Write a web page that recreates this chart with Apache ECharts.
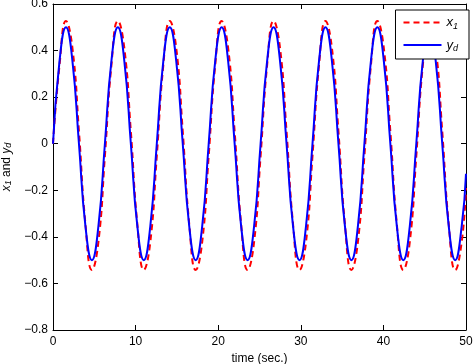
<!DOCTYPE html>
<html><head><meta charset="utf-8">
<script src="https://cdn.jsdelivr.net/npm/echarts@6/dist/echarts.min.js"></script>
<style>html,body{margin:0;padding:0;background:#fff}#c{width:474px;height:364px}</style>
</head><body><div id="c"></div>
<script>
// time samples (sec.)
const time = [0,0.785,1.571,2.356,3.142,3.927,4.712,5.498,6.283,7.069,7.854,8.639,9.425,10.21,10.996,11.781,
12.566,13.352,14.137,14.923,15.708,16.493,17.279,18.064,18.85,19.635,20.42,21.206,21.991,22.777,23.562,24.347,
25.133,25.918,26.704,27.489,28.274,29.06,29.845,30.631,31.416,32.201,32.987,33.772,34.558,35.343,36.128,36.914,
37.699,38.485,39.27,40.055,40.841,41.626,42.412,43.197,43.982,44.768,45.553,46.338,47.124,47.909,48.695,49.48,50];
// desired trajectory y_d
const yd = [0,0.354,0.5,0.354,0,-0.354,-0.5,-0.354,
0,0.354,0.5,0.354,0,-0.354,-0.5,-0.354,
0,0.354,0.5,0.354,0,-0.354,-0.5,-0.354,
0,0.354,0.5,0.354,0,-0.354,-0.5,-0.354,
0,0.354,0.5,0.354,0,-0.354,-0.5,-0.354,
0,0.354,0.5,0.354,0,-0.354,-0.5,-0.354,
0,0.354,0.5,0.354,0,-0.354,-0.5,-0.354,
0,0.354,0.5,0.354,0,-0.354,-0.5,-0.354,-0.129];
// state x_1
const x1 = [0,0.335,0.527,0.41,0.053,-0.345,-0.542,-0.422,
-0.053,0.335,0.527,0.41,0.053,-0.345,-0.542,-0.422,
-0.053,0.335,0.527,0.41,0.053,-0.345,-0.542,-0.422,
-0.053,0.335,0.527,0.41,0.053,-0.345,-0.542,-0.422,
-0.053,0.335,0.527,0.41,0.053,-0.345,-0.542,-0.422,
-0.053,0.335,0.527,0.41,0.053,-0.345,-0.542,-0.422,
-0.053,0.335,0.527,0.41,0.053,-0.345,-0.542,-0.422,
-0.053,0.335,0.527,0.41,0.053,-0.345,-0.542,-0.422,-0.19];
const xTicks = [0,10,20,30,40,50];
const yTicks = [-0.8,-0.6,-0.4,-0.2,0,0.2,0.4,0.6];

const font = 'Liberation Sans, Arial, Helvetica, sans-serif';
const pair = (ys) => time.map((t, i) => [t, ys[i]]);
const fmtY = v => (Math.round(v*10)/10).toString().replace('-', '\u2212');

const axisCommon = () => ({
  axisLine: { show: true, onZero: false, lineStyle: { color: '#000', width: 1 } },
  axisTick: { show: true, inside: true, length: 5, lineStyle: { color: '#000' } },
  splitLine: { show: false }
});

const chart = echarts.init(document.getElementById('c'), null, { renderer: 'canvas' });
chart.setOption({
  animation: false,
  backgroundColor: '#fff',
  grid: { left: 53, right: 8, top: 4, bottom: 34, containLabel: false, outerBoundsMode: 'none' },
  xAxis: [
    Object.assign({ type: 'value', min: xTicks[0], max: xTicks[xTicks.length-1], interval: 10, position: 'bottom',
      name: 'time (sec.)', nameLocation: 'middle', nameGap: 19,
      nameTextStyle: { fontFamily: font, fontSize: 12, color: '#000' },
      axisLabel: { fontFamily: font, fontSize: 12, color: '#000', margin: 6 } }, axisCommon()),
    Object.assign({ type: 'value', min: 0, max: 50, interval: 10, position: 'top', axisLabel: { show: false } }, axisCommon())
  ],
  yAxis: [
    Object.assign({ type: 'value', min: yTicks[0], max: yTicks[yTicks.length-1], interval: 0.2, position: 'left',
      name: '{i|x}{s|1}{n| and }{i|y}{s|d}', nameLocation: 'middle', nameGap: 37, nameRotate: 90,
      nameTextStyle: { fontFamily: font, fontSize: 12, color: '#000',
        rich: { i: { fontFamily: font, fontSize: 12, fontStyle: 'italic', color: '#000' },
                s: { fontFamily: font, fontSize: 9, fontStyle: 'italic', color: '#000', padding: [5,0,0,0] },
                n: { fontFamily: font, fontSize: 12, color: '#000' } } },
      axisLabel: { fontFamily: font, fontSize: 12, color: '#000', margin: 5, formatter: fmtY } }, axisCommon()),
    Object.assign({ type: 'value', min: -0.8, max: 0.6, interval: 0.2, position: 'right', axisLabel: { show: false } }, axisCommon())
  ],
  legend: {
    orient: 'vertical', right: 5, top: 10,
    backgroundColor: '#fff', borderColor: '#000', borderWidth: 1,
    padding: [6, 11, 6, 7], itemGap: 8, itemWidth: 38, itemHeight: 14,
    itemStyle: { opacity: 0 },
    textStyle: { fontFamily: font, fontSize: 12, color: '#000',
      rich: { i: { fontFamily: font, fontSize: 13, fontStyle: 'italic', color: '#000' },
              s: { fontFamily: font, fontSize: 9, fontStyle: 'italic', color: '#000', padding: [7,0,0,0] } } },
    formatter: n => n === 'x1' ? '{i|x}{s|1}' : '{i|y}{s|d}',
    data: ['x1', 'yd']
  },
  series: [
    { name: 'x1', type: 'line', data: pair(x1), smooth: 0.5, symbol: 'none', z: 2,
      lineStyle: { color: '#ff0000', width: 2, type: [6, 4] }, itemStyle: { color: '#ff0000' } },
    { name: 'yd', type: 'line', data: pair(yd), smooth: 0.5, symbol: 'none', z: 3,
      lineStyle: { color: '#0000ff', width: 2 }, itemStyle: { color: '#0000ff' } }
  ]
});
</script></body></html>
